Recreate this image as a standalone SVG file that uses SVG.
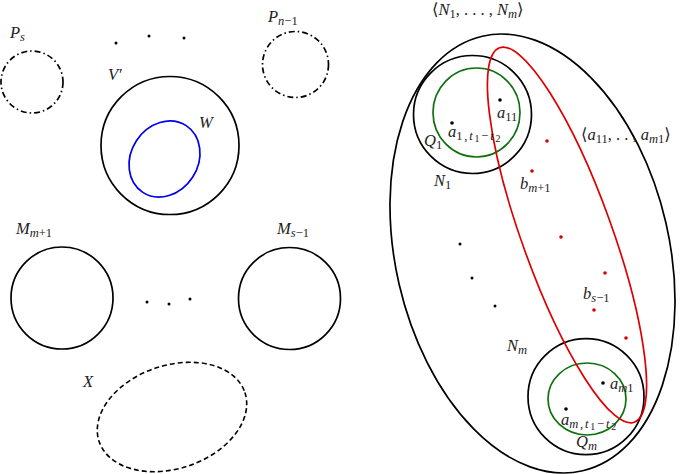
<svg xmlns="http://www.w3.org/2000/svg" width="685" height="474" viewBox="0 0 685 474">
<style>
.k{fill:none;stroke:#000;stroke-width:1.7}
.dd{fill:none;stroke:#000;stroke-width:1.7;stroke-dasharray:6 3 1.5 3}
.ds{fill:none;stroke:#000;stroke-width:1.6;stroke-dasharray:5 3}
.bl{fill:none;stroke:#0000ee;stroke-width:1.7}
.gr{fill:none;stroke:#107010;stroke-width:1.7}
.rd{fill:none;stroke:#dd0000;stroke-width:1.7}
text{font-family:"Liberation Serif","DejaVu Serif",serif;font-size:16.5px;fill:#222}
.i{font-style:italic}
.s{font-size:12.5px}
.ss{font-size:10px}
.w{letter-spacing:1.8px}
.kd{fill:#000}
.rdd{fill:#dd0000}
</style>
<rect width="685" height="474" fill="#fff"/>

<g id="Ps">
<circle class="dd" cx="32" cy="82" r="31"/>
<text x="10" y="38"><tspan class="i">P</tspan><tspan class="s i" dy="3">s</tspan></text>
</g>
<g id="top-dots">
<circle class="kd" cx="116" cy="43" r="1.5"/>
<circle class="kd" cx="149" cy="36" r="1.5"/>
<circle class="kd" cx="184" cy="38" r="1.5"/>
</g>
<g id="Pn1">
<circle class="dd" cx="295.5" cy="64.5" r="33"/>
<text x="268" y="22"><tspan class="i">P</tspan><tspan class="s" dy="3"><tspan class="i">n</tspan>−1</tspan></text>
</g>
<g id="Vprime">
<circle class="k" cx="170" cy="145.5" r="69"/>
<text x="108" y="80" class="i">V′</text>
</g>
<g id="W">
<ellipse class="bl" cx="164.5" cy="159" rx="33.5" ry="39.8" transform="rotate(33 164.5 159)"/>
<text x="199" y="128" class="i">W</text>
</g>

<g id="Mm1">
<circle class="k" cx="62" cy="298" r="51"/>
<text x="16" y="234"><tspan class="i">M</tspan><tspan class="s" dy="3"><tspan class="i">m</tspan>+1</tspan></text>
</g>
<g id="mid-dots">
<circle class="kd" cx="147" cy="302" r="1.5"/>
<circle class="kd" cx="169" cy="304" r="1.5"/>
<circle class="kd" cx="190" cy="299" r="1.5"/>
</g>
<g id="Ms1">
<circle class="k" cx="289.5" cy="298.5" r="51"/>
<text x="277" y="234"><tspan class="i">M</tspan><tspan class="s" dy="3"><tspan class="i">s</tspan>−1</tspan></text>
</g>
<g id="X">
<ellipse class="ds" cx="172" cy="417" rx="76.9" ry="51.6" transform="rotate(-18.6 172 417)"/>
<text x="83" y="387" class="i">X</text>
</g>

<g id="Nset">
<ellipse class="k" cx="532.5" cy="253.5" rx="136.9" ry="223" transform="rotate(-13 532.5 253.5)"/>
<text x="432" y="15">⟨<tspan class="i">N</tspan><tspan class="s" dy="3">1</tspan><tspan dy="-3">, . . . , </tspan><tspan class="i">N</tspan><tspan class="s i" dy="3">m</tspan><tspan dy="-3">⟩</tspan></text>
</g>
<g id="N1">
<circle class="k" cx="472.5" cy="114.5" r="59"/>
<text x="434" y="186"><tspan class="i">N</tspan><tspan class="s" dy="3">1</tspan></text>
</g>
<g id="Q1">
<ellipse class="gr" cx="476.5" cy="112.5" rx="43.5" ry="44.5"/>
<text x="424" y="146"><tspan class="i">Q</tspan><tspan class="s" dy="3">1</tspan></text>
</g>
<g id="Nm">
<circle class="k" cx="586" cy="396.7" r="58"/>
<text x="507" y="351"><tspan class="i">N</tspan><tspan class="s i" dy="3">m</tspan></text>
</g>
<g id="Qm">
<ellipse class="gr" cx="587" cy="399" rx="39" ry="36"/>
<text x="576" y="447"><tspan class="i">Q</tspan><tspan class="s i" dy="3">m</tspan></text>
</g>
<g id="Aset">
<ellipse class="rd" cx="567" cy="235" rx="45" ry="199" transform="rotate(-19.8 567 235)"/>
<text x="581" y="140">⟨<tspan class="i">a</tspan><tspan class="s" dy="3">11</tspan><tspan dy="-3">, . . , </tspan><tspan class="i">a</tspan><tspan class="s" dy="3"><tspan class="i">m</tspan>1</tspan><tspan dy="-3">⟩</tspan></text>
</g>

<g id="a11">
<circle class="kd" cx="500" cy="100" r="1.8"/>
<text x="497" y="118"><tspan class="i">a</tspan><tspan class="s" dy="3">11</tspan></text>
</g>
<g id="a1t">
<circle class="kd" cx="452" cy="123" r="1.8"/>
<text x="448" y="137"><tspan class="i">a</tspan><tspan class="s w" dy="3">1,<tspan class="i">t</tspan></tspan><tspan class="ss w" dy="2">1</tspan><tspan class="s w" dy="-2">−<tspan class="i">t</tspan></tspan><tspan class="ss" dy="2">2</tspan></text>
</g>
<g id="am1">
<circle class="kd" cx="603" cy="383" r="1.8"/>
<text x="610" y="389"><tspan class="i">a</tspan><tspan class="s" dy="3"><tspan class="i">m</tspan>1</tspan></text>
</g>
<g id="amt">
<circle class="kd" cx="566" cy="409" r="1.8"/>
<text x="561" y="425"><tspan class="i">a</tspan><tspan class="s w" dy="3"><tspan class="i">m</tspan>,<tspan class="i">t</tspan></tspan><tspan class="ss w" dy="2">1</tspan><tspan class="s w" dy="-2">−<tspan class="i">t</tspan></tspan><tspan class="ss" dy="2">2</tspan></text>
</g>
<g id="inner-dots">
<circle class="kd" cx="460" cy="244" r="1.5"/>
<circle class="kd" cx="472" cy="278" r="1.5"/>
<circle class="kd" cx="495" cy="306" r="1.5"/>
</g>
<g id="b-points">
<circle class="rdd" cx="547" cy="141" r="1.8"/>
<circle class="rdd" cx="532" cy="171" r="1.8"/>
<circle class="rdd" cx="561" cy="237" r="1.8"/>
<circle class="rdd" cx="605" cy="273" r="1.8"/>
<circle class="rdd" cx="594" cy="310" r="1.8"/>
<circle class="rdd" cx="626" cy="338" r="1.8"/>
<text x="520" y="189"><tspan class="i">b</tspan><tspan class="s" dy="3"><tspan class="i">m</tspan>+1</tspan></text>
<text x="583" y="299"><tspan class="i">b</tspan><tspan class="s" dy="3"><tspan class="i">s</tspan>−1</tspan></text>
</g>
<g id="connectors"/>
</svg>
